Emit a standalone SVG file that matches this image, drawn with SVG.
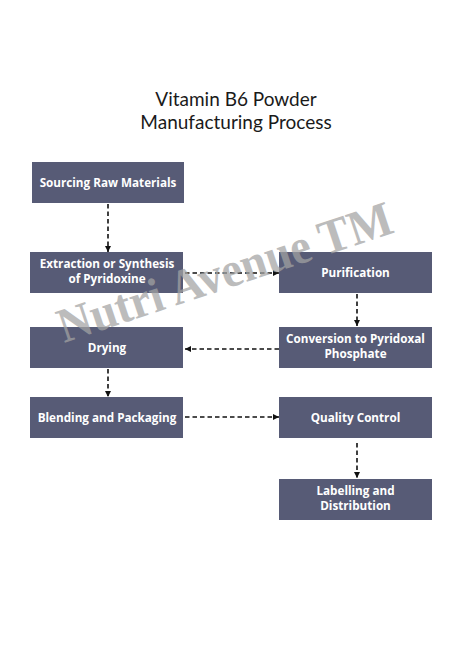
<svg xmlns="http://www.w3.org/2000/svg" width="474" height="647" viewBox="0 0 474 647">
<defs>
<style>
.box{fill:#575b76;}
.lbl{font-family:"Open Sans",Lato,"Liberation Sans",sans-serif;font-weight:bold;font-size:11.7px;fill:#ffffff;text-anchor:middle;}
.title{font-family:Lato,"Open Sans","Liberation Sans",sans-serif;font-size:19px;fill:#1a1a1a;text-anchor:middle;}
.conn{stroke:#111;stroke-width:1.6;stroke-dasharray:4.5,3;fill:none;}
.wm{font-family:"Liberation Serif","DejaVu Serif",serif;font-weight:bold;font-size:49px;fill:#a3a3a3;opacity:0.72;}
</style>
<marker id="ah" viewBox="0 0 10 10" refX="10" refY="5" markerWidth="6" markerHeight="6" markerUnits="userSpaceOnUse" orient="auto"><path d="M0,0 L10,5 L0,10 z" fill="#111"/></marker>
</defs>
<rect width="474" height="647" fill="#ffffff"/>
<g id="title">
<text class="title" x="236" y="106">Vitamin B6 Powder</text>
<text class="title" x="236" y="128.5">Manufacturing Process</text>
</g>
<g id="connectors">
<line class="conn" x1="108" y1="204" x2="108" y2="252" marker-end="url(#ah)"/>
<line class="conn" x1="185" y1="273" x2="279" y2="273" marker-end="url(#ah)"/>
<line class="conn" x1="357" y1="294" x2="357" y2="326" marker-end="url(#ah)"/>
<line class="conn" x1="279" y1="349" x2="185" y2="349" marker-end="url(#ah)"/>
<line class="conn" x1="108" y1="369" x2="108" y2="397" marker-end="url(#ah)"/>
<line class="conn" x1="185" y1="417" x2="279" y2="417" marker-end="url(#ah)"/>
<line class="conn" x1="357" y1="443" x2="357" y2="478" marker-end="url(#ah)"/>
</g>
<g id="n1"><rect class="box" x="32" y="162" width="152" height="41"/><text class="lbl" x="108" y="186.5">Sourcing Raw Materials</text></g>
<g id="n2"><rect class="box" x="30" y="252" width="153" height="41"/><text class="lbl" x="107" y="268">Extraction or Synthesis</text><text class="lbl" x="107" y="283">of Pyridoxine</text></g>
<g id="n3"><rect class="box" x="279" y="252" width="153" height="41"/><text class="lbl" x="355.5" y="276.5">Purification</text></g>
<g id="n4"><rect class="box" x="30" y="327" width="153" height="41"/><text class="lbl" x="107" y="351.5">Drying</text></g>
<g id="n5"><rect class="box" x="279" y="327" width="153" height="41"/><text class="lbl" x="355.5" y="343">Conversion to Pyridoxal</text><text class="lbl" x="355.5" y="358">Phosphate</text></g>
<g id="n6"><rect class="box" x="30" y="397" width="153" height="41"/><text class="lbl" x="107" y="421.5">Blending and Packaging</text></g>
<g id="n7"><rect class="box" x="279" y="397" width="153" height="41"/><text class="lbl" x="355.5" y="421.5">Quality Control</text></g>
<g id="n8"><rect class="box" x="279" y="479" width="153" height="41"/><text class="lbl" x="355.5" y="495">Labelling and</text><text class="lbl" x="355.5" y="510">Distribution</text></g>
<g id="watermark"><text class="wm" transform="translate(64,343) rotate(-18.5)" textLength="350" lengthAdjust="spacingAndGlyphs">Nutri Avenue TM</text></g>
</svg>
